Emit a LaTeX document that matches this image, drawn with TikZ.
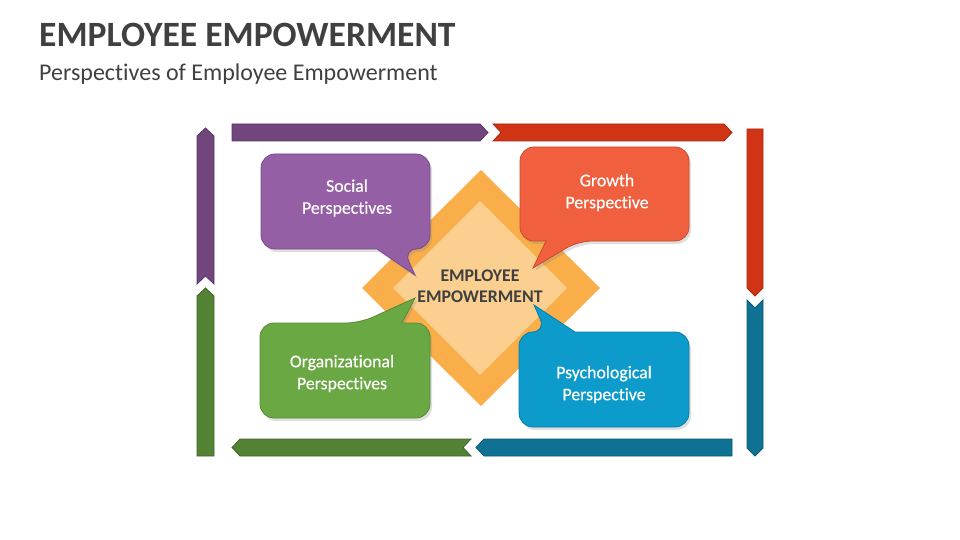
\documentclass[tikz,border=0pt]{standalone}
\usepackage{fontspec}
\setmainfont{Carlito}[Ligatures={NoCommon}]
\newfontfamily\calloutfont{Carlito}[Ligatures={NoCommon},FakeBold=0.4]
\usetikzlibrary{shadows}
\definecolor{purA}{HTML}{70467C}\definecolor{purAd}{HTML}{583668}
\definecolor{purC}{HTML}{955FA6}\definecolor{purCd}{HTML}{7A4B8A}
\definecolor{redA}{HTML}{D13415}\definecolor{redAd}{HTML}{A8280F}
\definecolor{redC}{HTML}{F05F3E}\definecolor{redCd}{HTML}{C94A2E}
\definecolor{bluA}{HTML}{0F7295}\definecolor{bluAd}{HTML}{0B5872}
\definecolor{bluC}{HTML}{0C9BCB}\definecolor{bluCd}{HTML}{0A7DA5}
\definecolor{grnA}{HTML}{548235}\definecolor{grnAd}{HTML}{3F6427}
\definecolor{grnC}{HTML}{6AA843}\definecolor{grnCd}{HTML}{568A35}
\definecolor{dmO}{HTML}{F9AE4A}\definecolor{dmI}{HTML}{FBCF8F}
\definecolor{ttl}{HTML}{404040}
\tikzset{
  arrowshape/.style={line width=0.8pt, line join=miter},
  callout/.style={line width=0.8pt, rounded corners=14pt,
    drop shadow={shadow xshift=2pt, shadow yshift=-3pt, opacity=0.25}},
  ctext/.style={text=white, font=\calloutfont\fontsize{17.8}{22}\selectfont, align=center},
}
\begin{document}
\begin{tikzpicture}[x=1pt,y=-1pt]
\useasboundingbox (0,0) rectangle (960,540);
% titles
\node[anchor=base west, inner sep=0, text=ttl, font=\fontsize{35.6}{40}\selectfont\bfseries] (title) at (39,46.5) {EMPLOYEE EMPOWERMENT};
\node[anchor=base west, inner sep=0, text=ttl, font=\fontsize{24}{28}\selectfont] (sub) at (39,81) {Perspectives of Employee Empowerment};
% frame arrows
\path[arrowshape, fill=purA, draw=purAd] (197,284) -- (197,136) -- (205.5,128) -- (214,136) -- (214,284) -- (205.5,276) -- cycle;
\path[arrowshape, fill=grnA, draw=grnAd] (197,456) -- (197,296) -- (205.5,288) -- (214,296) -- (214,456) -- cycle;
\path[arrowshape, fill=purA, draw=purAd] (232,124) -- (480,124) -- (488,132.5) -- (480,141) -- (232,141) -- cycle;
\path[arrowshape, fill=redA, draw=redAd] (493,124) -- (724,124) -- (732,132.5) -- (724,141) -- (493,141) -- (501,132.5) -- cycle;
\path[arrowshape, fill=redA, draw=redAd] (747,129) -- (763,129) -- (763,288) -- (755,296) -- (747,288) -- cycle;
\path[arrowshape, fill=bluA, draw=bluAd] (747,300) -- (755,308) -- (763,300) -- (763,448) -- (755,456) -- (747,448) -- cycle;
\path[arrowshape, fill=bluA, draw=bluAd] (732,439) -- (732,456) -- (484,456) -- (476,447.5) -- (484,439) -- cycle;
\path[arrowshape, fill=grnA, draw=grnAd] (471,439) -- (463,447.5) -- (471,456) -- (240,456) -- (232,447.5) -- (240,439) -- cycle;
% diamond
\fill[dmO] (362,288) -- (481,170) -- (600,288) -- (481,406) -- cycle;
\fill[dmI] (393,288) -- (480,201) -- (567,288) -- (480,375) -- cycle;
\node[text=ttl, font=\fontsize{17.8}{21.5}\selectfont\bfseries, align=center] (center) at (480,286) {EMPLOYEE\\EMPOWERMENT};
% callouts
\path[callout, fill=purC, draw=purCd] (261,154) -- (430,154) -- (430,249) -- (403,249) [sharp corners] -- (415,275) -- (377,249) [rounded corners=14pt] -- (261,249) -- cycle;
\path[callout, fill=redC, draw=redCd] (520,147) -- (689,147) -- (689,241) -- (578,241) [sharp corners] -- (533,268) -- (546,241) [rounded corners=14pt] -- (520,241) -- cycle;
\path[callout, fill=grnC, draw=grnCd] (260,323) -- (360,323) [sharp corners] -- (415,298) -- (402,323) [rounded corners=14pt] -- (430,323) -- (430,418) -- (260,418) -- cycle;
\path[callout, fill=bluC, draw=bluCd] (519,332) -- (546,332) [sharp corners] -- (534,305) -- (575,332) [rounded corners=14pt] -- (689,332) -- (689,427) -- (519,427) -- cycle;
\node[ctext] (social) at (347,198) {Social\\Perspectives};
\node[ctext] (growth) at (607,192.5) {Growth\\Perspective};
\node[ctext] (org) at (342,373.5) {Organizational\\Perspectives};
\node[ctext] (psy) at (604,384.5) {Psychological\\Perspective};
\end{tikzpicture}
\end{document}
